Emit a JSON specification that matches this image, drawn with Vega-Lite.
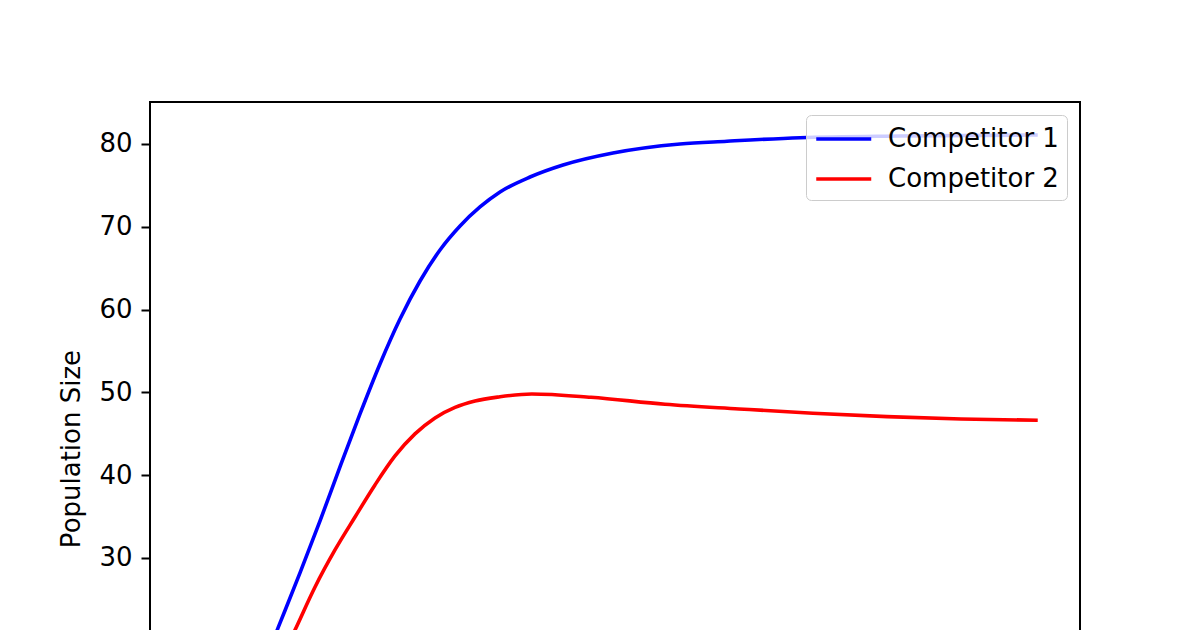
{
  "$schema": "https://vega.github.io/schema/vega-lite/v6.json",
  "background": "#ffffff",
  "autosize": "none",
  "padding": {"left": 150, "top": 102, "right": 120, "bottom": 40},
  "width": 930,
  "height": 693,
  "config": {
    "font": "DejaVu Sans",
    "view": {"stroke": "#000000", "strokeWidth": 2},
    "axis": {"labelFont": "DejaVu Sans", "titleFont": "DejaVu Sans"}
  },
  "data": {
    "values": [
      {"t": 0, "pop": 5.2, "series": "Competitor 1"},
      {"t": 2, "pop": 6.6, "series": "Competitor 1"},
      {"t": 4, "pop": 8.8, "series": "Competitor 1"},
      {"t": 6, "pop": 11.9, "series": "Competitor 1"},
      {"t": 8, "pop": 16.1, "series": "Competitor 1"},
      {"t": 10.38, "pop": 22.15, "series": "Competitor 1"},
      {"t": 12.74, "pop": 28.19, "series": "Competitor 1"},
      {"t": 15.11, "pop": 34.47, "series": "Competitor 1"},
      {"t": 17.47, "pop": 40.99, "series": "Competitor 1"},
      {"t": 19.84, "pop": 47.39, "series": "Competitor 1"},
      {"t": 22.2, "pop": 53.43, "series": "Competitor 1"},
      {"t": 24.57, "pop": 58.86, "series": "Competitor 1"},
      {"t": 26.94, "pop": 63.45, "series": "Competitor 1"},
      {"t": 29.3, "pop": 67.2, "series": "Competitor 1"},
      {"t": 31.67, "pop": 70.1, "series": "Competitor 1"},
      {"t": 34.03, "pop": 72.39, "series": "Competitor 1"},
      {"t": 36.4, "pop": 74.2, "series": "Competitor 1"},
      {"t": 39.95, "pop": 76.01, "series": "Competitor 1"},
      {"t": 43.85, "pop": 77.46, "series": "Competitor 1"},
      {"t": 49.76, "pop": 78.91, "series": "Competitor 1"},
      {"t": 57.69, "pop": 80.0, "series": "Competitor 1"},
      {"t": 63.25, "pop": 80.33, "series": "Competitor 1"},
      {"t": 71.88, "pop": 80.76, "series": "Competitor 1"},
      {"t": 83.71, "pop": 80.97, "series": "Competitor 1"},
      {"t": 100, "pop": 81.09, "series": "Competitor 1"},
      {"t": 0, "pop": 5.3, "series": "Competitor 2"},
      {"t": 2, "pop": 6.5, "series": "Competitor 2"},
      {"t": 4, "pop": 8.2, "series": "Competitor 2"},
      {"t": 6, "pop": 10.3, "series": "Competitor 2"},
      {"t": 8, "pop": 13.1, "series": "Competitor 2"},
      {"t": 10, "pop": 16.7, "series": "Competitor 2"},
      {"t": 12.15, "pop": 21.3, "series": "Competitor 2"},
      {"t": 14.52, "pop": 26.5, "series": "Competitor 2"},
      {"t": 16.88, "pop": 30.97, "series": "Competitor 2"},
      {"t": 19.25, "pop": 34.95, "series": "Competitor 2"},
      {"t": 21.61, "pop": 38.82, "series": "Competitor 2"},
      {"t": 23.98, "pop": 42.32, "series": "Competitor 2"},
      {"t": 26.34, "pop": 44.98, "series": "Competitor 2"},
      {"t": 28.71, "pop": 46.91, "series": "Competitor 2"},
      {"t": 31.08, "pop": 48.18, "series": "Competitor 2"},
      {"t": 33.44, "pop": 48.96, "series": "Competitor 2"},
      {"t": 36.4, "pop": 49.47, "series": "Competitor 2"},
      {"t": 40.16, "pop": 49.81, "series": "Competitor 2"},
      {"t": 47.16, "pop": 49.41, "series": "Competitor 2"},
      {"t": 55.91, "pop": 48.56, "series": "Competitor 2"},
      {"t": 64.66, "pop": 48.0, "series": "Competitor 2"},
      {"t": 73.41, "pop": 47.48, "series": "Competitor 2"},
      {"t": 82.17, "pop": 47.07, "series": "Competitor 2"},
      {"t": 90.92, "pop": 46.79, "series": "Competitor 2"},
      {"t": 100, "pop": 46.63, "series": "Competitor 2"}
    ]
  },
  "mark": {"type": "line", "interpolate": "monotone", "strokeWidth": 3.6},
  "encoding": {
    "x": {
      "field": "t",
      "type": "quantitative",
      "scale": {"domain": [-5, 105], "nice": false, "zero": false},
      "axis": null
    },
    "y": {
      "field": "pop",
      "type": "quantitative",
      "title": "Population Size",
      "scale": {"domain": [1.37, 85.07], "nice": false, "zero": false},
      "axis": {
        "values": [30, 40, 50, 60, 70, 80],
        "domain": false,
        "grid": false,
        "ticks": true,
        "tickSize": 9,
        "tickWidth": 2,
        "tickColor": "#000000",
        "labelFontSize": 26,
        "labelColor": "#000000",
        "labelPadding": 9,
        "titleFontSize": 26,
        "titleFontWeight": "normal",
        "titleColor": "#000000",
        "titlePadding": 14
      }
    },
    "color": {
      "field": "series",
      "type": "nominal",
      "scale": {"domain": ["Competitor 1", "Competitor 2"], "range": ["#0000ff", "#ff0000"]},
      "legend": {
        "title": null,
        "orient": "top-right",
        "offset": 13,
        "fillColor": "rgba(255,255,255,0.8)",
        "strokeColor": "#cccccc",
        "cornerRadius": 5,
        "padding": 8,
        "symbolType": "M-1,0H3",
        "symbolSize": 756,
        "symbolStrokeWidth": 3.6,
        "labelFontSize": 26,
        "labelFont": "DejaVu Sans",
        "labelColor": "#000000",
        "labelLimit": 0,
        "labelOffset": 42,
        "rowPadding": 11
      }
    }
  }
}
